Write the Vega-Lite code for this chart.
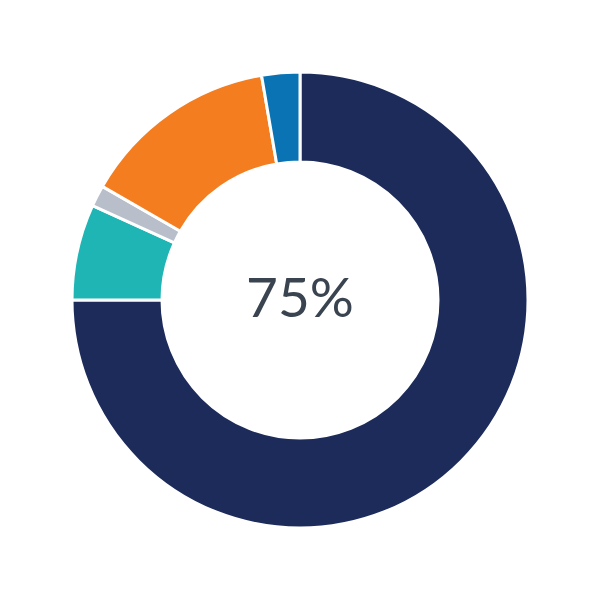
{
  "$schema": "https://vega.github.io/schema/vega-lite/v6.json",
  "width": 600,
  "height": 600,
  "autosize": {"type": "fit", "contains": "padding"},
  "padding": 0,
  "background": "white",
  "view": {"stroke": null},
  "data": {
    "values": [
      {"category": "A", "value": 75, "order": 1},
      {"category": "B", "value": 6.8, "order": 2},
      {"category": "C", "value": 1.5, "order": 3},
      {"category": "D", "value": 14, "order": 4},
      {"category": "E", "value": 2.7, "order": 5}
    ]
  },
  "layer": [
    {
      "mark": {"type": "arc", "radius": 228, "radius2": 138, "stroke": "white", "strokeWidth": 3},
      "encoding": {
        "theta": {"field": "value", "type": "quantitative", "stack": true},
        "order": {"field": "order", "type": "quantitative"},
        "color": {
          "field": "category",
          "type": "nominal",
          "scale": {"domain": ["A", "B", "C", "D", "E"], "range": ["#1c2b5a", "#20b5b5", "#b8bfca", "#f47d20", "#0a73b3"]},
          "legend": null
        }
      }
    },
    {
      "data": {"values": [{"label": "75%"}]},
      "mark": {"type": "text", "font": "Lato", "fontSize": 55, "color": "#3a4450", "align": "center", "baseline": "middle"},
      "encoding": {"text": {"field": "label"}}
    }
  ]
}
